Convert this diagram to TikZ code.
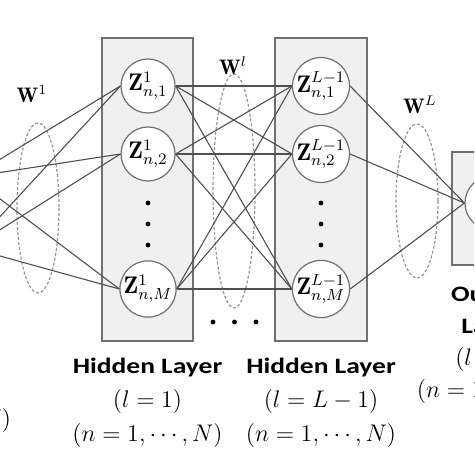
\documentclass[tikz,border=0pt]{standalone}
\usepackage{fontspec}
\newfontfamily\layerfont[FakeStretch=1.25]{Carlito}
\usetikzlibrary{positioning}
\definecolor{boxfill}{HTML}{F0F0F0}
\definecolor{boxline}{HTML}{707070}
\definecolor{linkgray}{HTML}{505050}
\definecolor{groupblue}{HTML}{8C97AA}

\begin{document}
\begin{tikzpicture}
[x=0.5pt,y=-0.5pt,
 neuron/.style={circle,draw=boxline,fill=white,line width=0.6pt,minimum size=27pt,inner sep=0pt,font=\fontsize{12}{12}\selectfont},
 layerbox/.style={rectangle,draw=boxline,fill=boxfill,line width=0.7pt,inner sep=0pt},
 dotmark/.style={circle,fill=black,minimum size=2.4pt,inner sep=0pt},
 link/.style={draw=linkgray,line width=0.55pt},
 wgroup/.style={draw=groupblue,dash pattern=on 1.5pt off 1pt,line width=0.6pt},
 wlabel/.style={font=\fontsize{10.5}{10.5}\selectfont},
 caption/.style={align=center,font=\fontsize{12}{17}\selectfont},
 outcaption/.style={align=center,font=\fontsize{12}{16}\selectfont}]

\useasboundingbox (0,0) rectangle (474,474);
\clip (0,0) rectangle (474,474);

% layer boxes
\node[layerbox,minimum width=45.5pt,minimum height=151.5pt] (H1box) at (147.5,189.5) {};
\node[layerbox,minimum width=46pt,minimum height=151.5pt]   (HLbox) at (321,189.5)   {};
\node[layerbox,minimum width=40pt,minimum height=56.5pt]    (Obox)  at (492,208.5)   {};

% weight groups
\draw[wgroup] (38,208)  ellipse [x radius=21, y radius=85];
\draw[wgroup] (234,191) ellipse [x radius=21, y radius=117];
\draw[wgroup] (417,201) ellipse [x radius=21, y radius=77];

% inputs (left of the frame)
\coordinate (In1) at (-29,177);
\coordinate (In2) at (-29,248);

% hidden layer l=1
\node[neuron]  (H1z1) at (148,86)                       {$\mathbf{Z}^{1}_{n,1}$};
\node[neuron]  (H1z2) [on grid,below=34pt of H1z1]      {$\mathbf{Z}^{1}_{n,2}$};
\node[neuron]  (H1zM) [on grid,below=67.5pt of H1z2]    {$\mathbf{Z}^{1}_{n,M}$};
\node[dotmark] (H1d1) [on grid,below=24.5pt of H1z2]    {};
\node[dotmark] (H1d2) [on grid,below=10.5pt of H1d1]    {};
\node[dotmark] (H1d3) [on grid,below=10.5pt of H1d2]    {};

% hidden layer l=L-1
\node[neuron]  (HLz1) [on grid,right=86.5pt of H1z1]    {$\mathbf{Z}^{L-1}_{n,1}$};
\node[neuron]  (HLz2) [on grid,below=34pt of HLz1]      {$\mathbf{Z}^{L-1}_{n,2}$};
\node[neuron]  (HLzM) [on grid,below=67.5pt of HLz2]    {$\mathbf{Z}^{L-1}_{n,M}$};
\node[dotmark] (HLd1) [on grid,below=24.5pt of HLz2]    {};
\node[dotmark] (HLd2) [on grid,below=10.5pt of HLd1]    {};
\node[dotmark] (HLd3) [on grid,below=10.5pt of HLd2]    {};

% output
\node[neuron]  (Oz) at (492,203) {};

% skipped layers
\node[dotmark] (gap1) at (213,322)                      {};
\node[dotmark] (gap2) [on grid,right=10.75pt of gap1]   {};
\node[dotmark] (gap3) [on grid,right=10.75pt of gap2]   {};

% connections
\foreach \k in {1,2}
  \foreach \j in {1,2,M}
    \draw[link] (In\k) -- (H1z\j.west);
\foreach \i in {1,2,M}
  \foreach \j in {1,2,M}
    \draw[link] (H1z\i.east) -- (HLz\j.west);
\foreach \i in {1,2,M}
  \draw[link] (HLz\i.east) -- (Oz.west);

% weight labels
\node[wlabel] (W1) at (32,94)  {$\mathbf{W}^{1}$};
\node[wlabel] (Wl) at (233,66) {$\mathbf{W}^{l}$};
\node[wlabel] (WL) at (420,105) {$\mathbf{W}^{L}$};

% captions
\node[caption] (H1cap) [on grid,below=106.75pt of H1box]
  {{\fontsize{11}{17}\layerfont\bfseries Hidden Layer}\\ $(l=1)$\\ $(n=1,\cdots,N)$};
\node[caption] (HLcap) [on grid,below=106.75pt of HLbox]
  {{\fontsize{11}{17}\layerfont\bfseries Hidden Layer}\\ $(l=L-1)$\\ $(n=1,\cdots,N)$};
\node[outcaption] (Ocap) [on grid,below=68.5pt of Obox]
  {{\fontsize{11}{16}\layerfont\bfseries Output}\\ {\fontsize{11}{16}\layerfont\bfseries Layer}\\ $(l=L)$\\ $(n=1,\cdots,N)$};
\node[caption] (Icap) at (-64,420) {$(n=1,\cdots,N)$};

\end{tikzpicture}
\end{document}
